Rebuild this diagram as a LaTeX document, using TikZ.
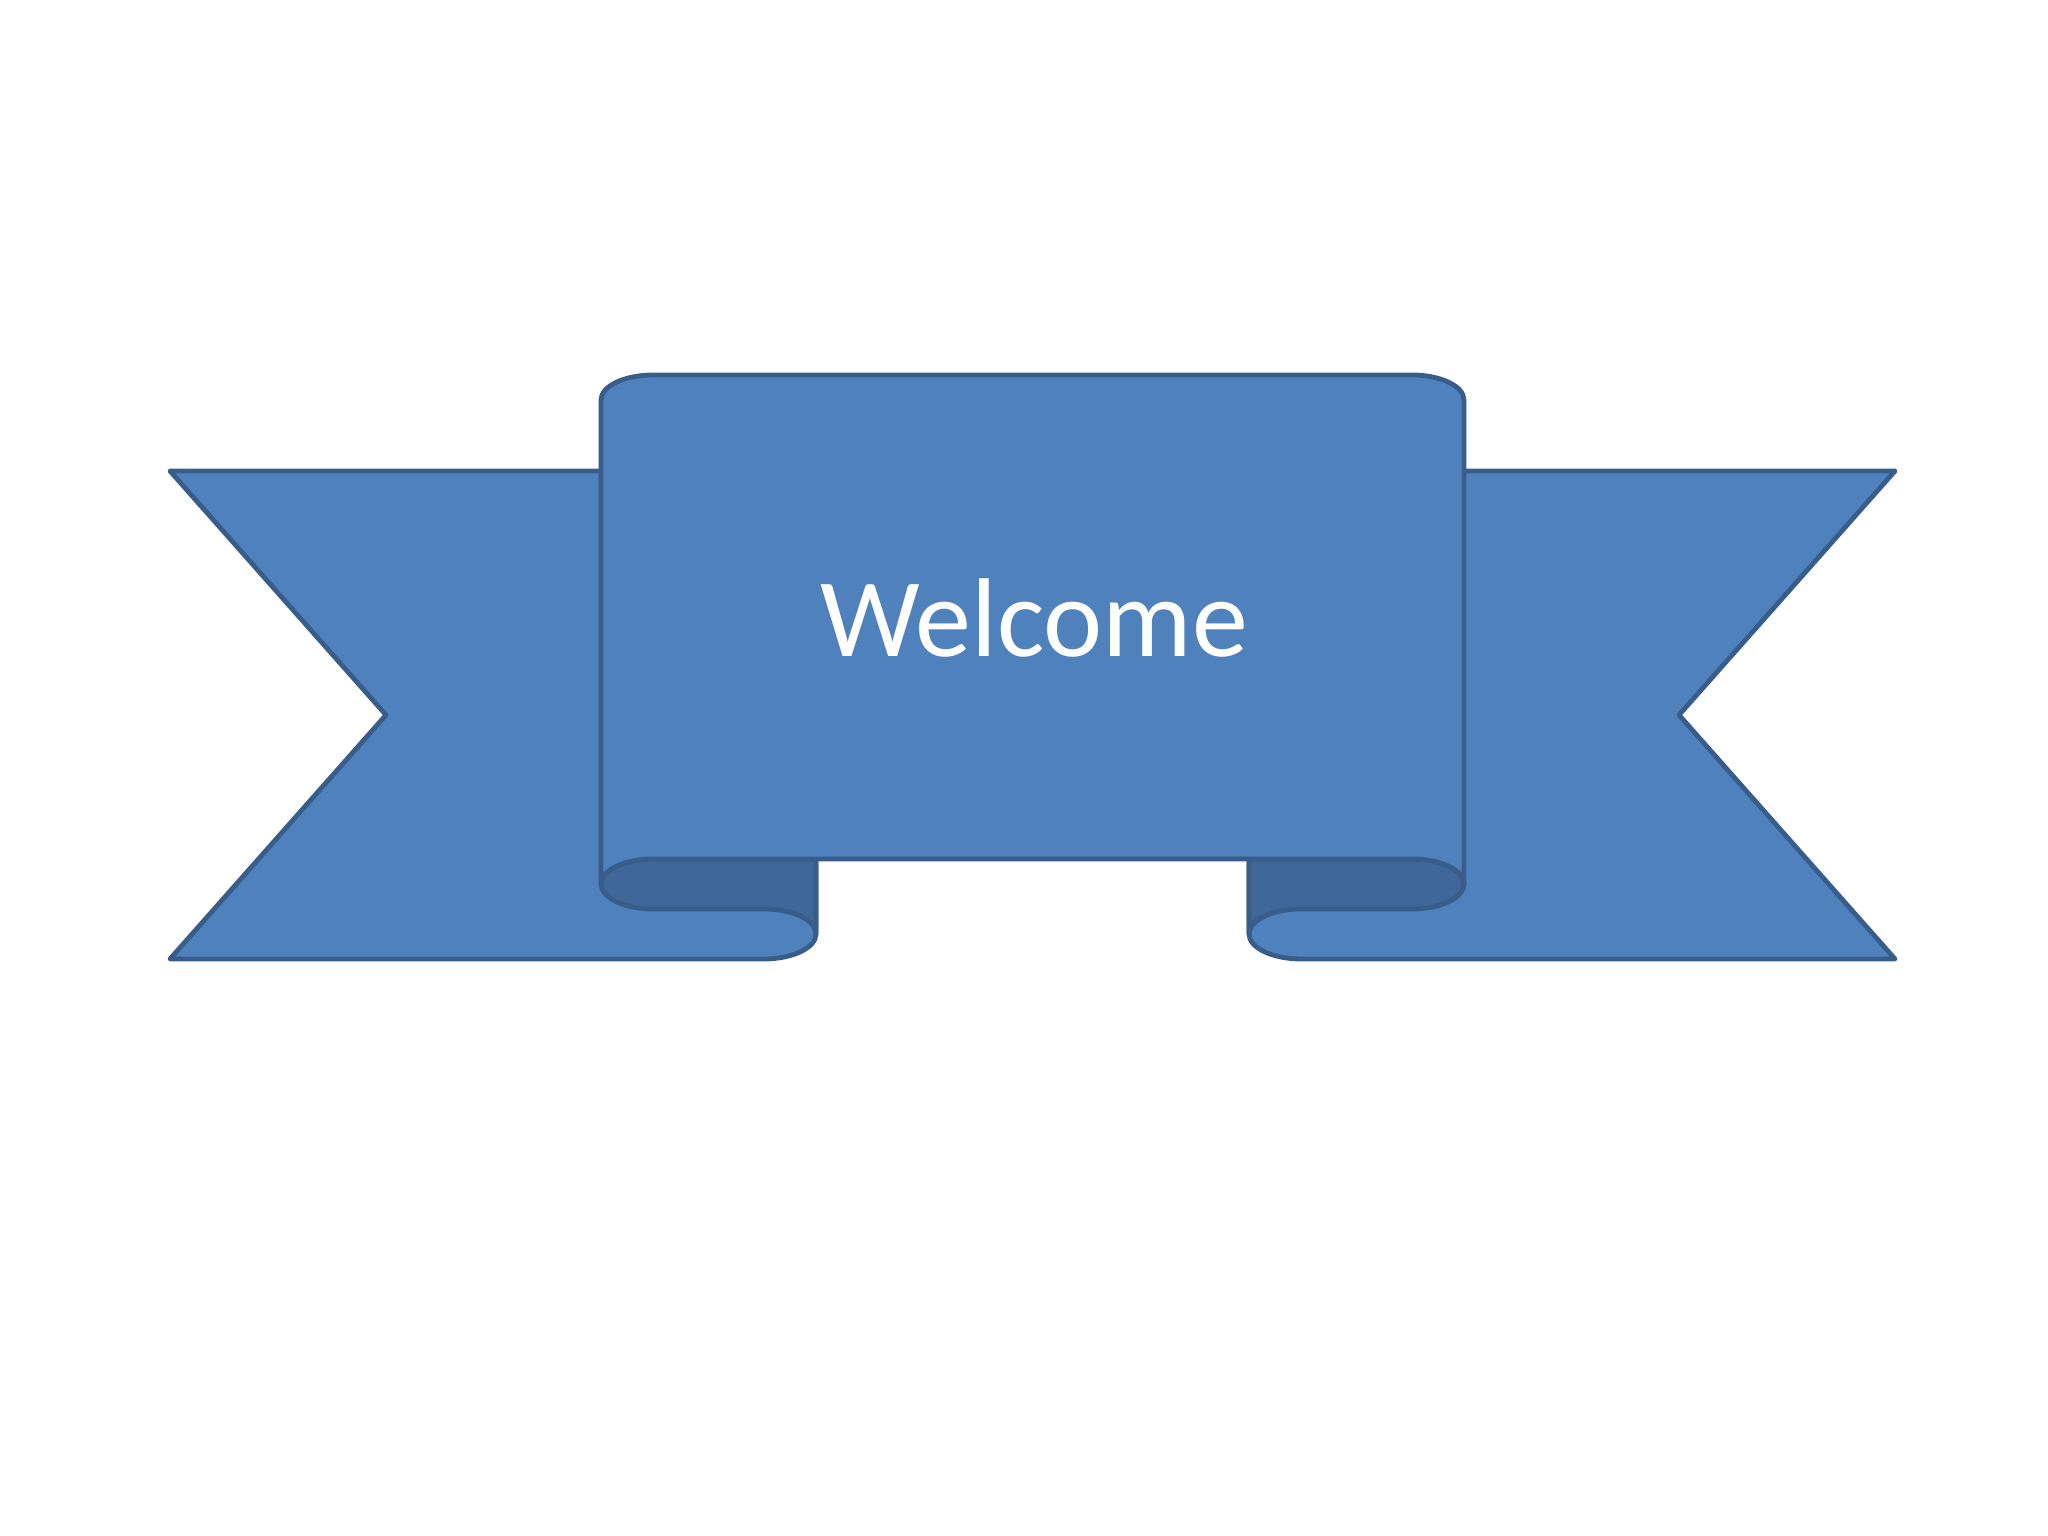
\documentclass[tikz,border=0pt]{standalone}
\usepackage{fontspec}
\setmainfont{Carlito}
\definecolor{ribfill}{HTML}{4F81BD}
\definecolor{ribline}{HTML}{385D8A}
\definecolor{ribfold}{HTML}{3F6797}
\begin{document}
\begin{tikzpicture}[x=1pt,y=1pt,
  ribbon/.style={fill=ribfill,draw=ribline,line width=4.8pt,line join=round},
  fold/.style={fill=ribfold,draw=ribline,line width=4.8pt,line join=round},
  ell/.style={x radius=52pt,y radius=25pt}]
\useasboundingbox (0,0) rectangle (2048,1536);
% left tail
\path[ribbon] (170,1065) -- (640,1065) -- (640,677) -- (816,677) -- (816,602)
  arc[ell,start angle=0,end angle=-90] -- (170,577) -- (386,821) -- cycle;
% right tail
\path[ribbon] (1895,1065) -- (1425,1065) -- (1425,677) -- (1249,677) -- (1249,602)
  arc[ell,start angle=180,end angle=270] -- (1895,577) -- (1679,821) -- cycle;
% left fold
\path[fold] (601,652) arc[ell,start angle=180,end angle=90] -- (816,677) -- (816,602)
  arc[ell,start angle=0,end angle=90] -- (653,627) arc[ell,start angle=270,end angle=180] -- cycle;
% right fold
\path[fold] (1464,652) arc[ell,start angle=0,end angle=90] -- (1249,677) -- (1249,602)
  arc[ell,start angle=180,end angle=90] -- (1412,627) arc[ell,start angle=270,end angle=360] -- cycle;
% front panel
\path[ribbon] (601,652) -- (601,1136) arc[ell,start angle=180,end angle=90] -- (1412,1161)
  arc[ell,start angle=90,end angle=0] -- (1464,652) arc[ell,start angle=0,end angle=90]
  -- (653,677) arc[ell,start angle=90,end angle=180] -- cycle;
\node[anchor=base,text=white,inner sep=0pt,font=\fontsize{112}{120}\selectfont] (title) at (1034,879) {Welcome};
\end{tikzpicture}
\end{document}
